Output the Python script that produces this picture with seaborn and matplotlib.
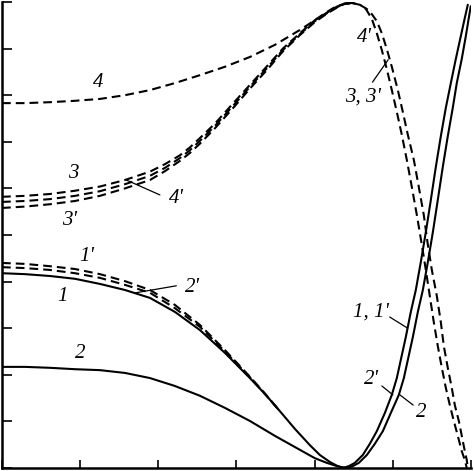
import numpy as np
import pandas as pd
import matplotlib
matplotlib.use("Agg")
import matplotlib.pyplot as plt
import seaborn as sns

# curve 1 (solid)
c1_x = [0.000, 0.294, 0.614, 0.934, 1.253, 1.573, 1.893, 2.212, 2.532, 2.852,
        3.171, 3.363, 3.555, 3.747, 3.939, 4.066, 4.194, 4.284, 4.361,
        4.437, 4.514, 4.616, 4.706, 4.795, 4.898, 4.987, 5.051, 5.102, 5.166,
        5.230, 5.294, 5.358, 5.422, 5.486, 5.550, 5.614, 5.678, 5.742, 5.806,
        5.870, 5.921, 5.959]
c1_y = [0.418, 0.416, 0.412, 0.406, 0.395, 0.382, 0.365, 0.335, 0.296, 0.247,
        0.193, 0.159, 0.122, 0.084, 0.049, 0.028, 0.013, 0.005, 0.000,
        0.004, 0.011, 0.028, 0.052, 0.079, 0.118, 0.157, 0.193, 0.232, 0.281,
        0.335, 0.382, 0.442, 0.506, 0.575, 0.646, 0.712, 0.773, 0.826, 0.878,
        0.927, 0.966, 0.994]

# curves 1' and 2' (dashed) - visible part before they join curve 1
c1p_x = [0.000, 0.294, 0.614, 0.934, 1.253, 1.573, 1.893, 2.212, 2.532, 2.852,
         3.171, 3.363, 3.555]
c1p_y = [0.440, 0.438, 0.433, 0.427, 0.416, 0.401, 0.382, 0.350, 0.307, 0.253,
         0.196, 0.160, 0.122]
c2p_y = [0.431, 0.429, 0.425, 0.418, 0.408, 0.393, 0.376, 0.343, 0.303, 0.250,
         0.195, 0.159, 0.122]

# curve 2 (solid)
c2_x = [0.000, 0.294, 0.614, 0.934, 1.253, 1.573, 1.893, 2.212, 2.532, 2.852,
        3.171, 3.491, 3.811, 4.003, 4.156, 4.284, 4.412,
        4.488, 4.565, 4.668, 4.770, 4.872, 4.974, 5.077, 5.141, 5.192, 5.256,
        5.320, 5.384, 5.448, 5.512, 5.575, 5.639, 5.703, 5.767, 5.818, 5.882,
        5.934, 5.972, 5.997]
c2_y = [0.217, 0.217, 0.215, 0.212, 0.210, 0.204, 0.193, 0.176, 0.155, 0.129,
        0.101, 0.069, 0.039, 0.021, 0.011, 0.004, 0.000,
        0.004, 0.011, 0.028, 0.052, 0.079, 0.118, 0.157, 0.193, 0.232, 0.281,
        0.335, 0.382, 0.442, 0.506, 0.575, 0.646, 0.712, 0.773, 0.826, 0.878,
        0.927, 0.966, 0.991]

# curve 4 (dashed); 4' falls along it after the peak
c4_x = [0.000, 0.294, 0.614, 0.934, 1.253, 1.573, 1.893, 2.212, 2.532, 2.852,
        3.171, 3.491, 3.811, 4.003, 4.130, 4.258, 4.386, 4.476, 4.578, 4.655,
        4.731, 4.795, 4.859, 4.923, 4.987, 5.051, 5.115, 5.179, 5.243, 5.307,
        5.371, 5.422, 5.473, 5.524, 5.575, 5.627, 5.678, 5.729, 5.780, 5.831,
        5.882, 5.921, 5.946]
c4_y = [0.783, 0.783, 0.785, 0.788, 0.792, 0.800, 0.811, 0.826, 0.843, 0.861,
        0.882, 0.908, 0.940, 0.961, 0.976, 0.989, 0.997, 0.998, 0.994, 0.985,
        0.964, 0.933, 0.897, 0.856, 0.811, 0.764, 0.715, 0.661, 0.603, 0.543,
        0.479, 0.425, 0.369, 0.313, 0.262, 0.215, 0.172, 0.135, 0.101, 0.069,
        0.036, 0.017, 0.000]

# rising bundle 3 / 4' / 3' (dashed)
b_x = [0.000, 0.294, 0.614, 0.934, 1.253, 1.573, 1.893, 2.084, 2.276, 2.404,
       2.532, 2.724, 2.954, 3.171, 3.389, 3.593, 3.811, 4.003, 4.156, 4.284,
       4.386, 4.476]
c3_rise = [0.582, 0.584, 0.588, 0.595, 0.604, 0.618, 0.636, 0.652, 0.671, 0.688,
           0.708, 0.739, 0.782, 0.822, 0.862, 0.900, 0.933, 0.961, 0.977, 0.990,
           0.996, 0.998]
c4p_rise = [0.571, 0.573, 0.577, 0.584, 0.594, 0.609, 0.627, 0.644, 0.665, 0.682,
            0.702, 0.734, 0.777, 0.818, 0.858, 0.897, 0.931, 0.959, 0.976, 0.989,
            0.996, 0.998]
c3p_rise = [0.558, 0.561, 0.566, 0.573, 0.584, 0.600, 0.618, 0.637, 0.659, 0.676,
            0.696, 0.729, 0.772, 0.814, 0.854, 0.894, 0.929, 0.957, 0.975, 0.988,
            0.996, 0.998]

# falling branch shared by 3 and 3'
c3_fall_x = [4.578, 4.668, 4.731, 4.795, 4.859, 4.923, 4.987, 5.064, 5.128, 5.192,
             5.269, 5.332, 5.396, 5.448, 5.499, 5.563, 5.614, 5.652, 5.703, 5.754,
             5.793, 5.844, 5.882, 5.921, 5.946, 5.959]
c3_fall_y = [0.994, 0.985, 0.974, 0.959, 0.933, 0.899, 0.861, 0.811, 0.764, 0.715,
             0.661, 0.603, 0.543, 0.479, 0.425, 0.369, 0.313, 0.262, 0.215, 0.172,
             0.135, 0.101, 0.069, 0.036, 0.017, 0.000]

# curve labels: text, position, leader line (start, end) or None
labels = [
    ("4", (1.23, 0.828), None),
    ("3", (0.91, 0.631), None),
    ("3'", (0.87, 0.532), None),
    ("4'", (2.23, 0.579), ((2.02, 0.586), (1.59, 0.618))),
    ("1'", (1.09, 0.453), None),
    ("1", (0.77, 0.367), None),
    ("2'", (2.44, 0.388), ((2.23, 0.391), (1.71, 0.376))),
    ("2", (1.00, 0.245), None),
    ("1, 1'", (4.72, 0.335), ((4.96, 0.324), (5.19, 0.300))),
    ("2'", (4.73, 0.189), ((4.86, 0.176), (5.00, 0.157))),
    ("2", (5.36, 0.120), ((5.26, 0.135), (5.09, 0.157))),
    ("4'", (4.64, 0.923), None),
    ("3, 3'", (4.62, 0.796), ((4.74, 0.828), (4.94, 0.876))),
]

sns.set_theme(style="white")
plt.rcParams['font.family'] = ['Liberation Serif', 'DejaVu Serif']

fig = plt.figure(figsize=(4.74, 4.71), dpi=100)
ax = fig.add_axes([2 / 474, 3 / 471, 469 / 474, 466 / 471])

dash = (0, (4.2, 2.4))
curves = [
    (c1_x, c1_y, '-'),
    (c1p_x, c1p_y, dash),
    (c1p_x, c2p_y, dash),
    (c2_x, c2_y, '-'),
    (c4_x, c4_y, dash),
    (b_x, c4p_rise, dash),
    (b_x + c3_fall_x, c3_rise + c3_fall_y, dash),
    (b_x, c3p_rise, dash),
]
for xs, ys, ls in curves:
    df = pd.DataFrame({'x': xs, 'y': ys})
    sns.lineplot(data=df, x='x', y='y', ax=ax, color='black', linewidth=1.5,
                 linestyle=ls, estimator=None, sort=False)

for text, pos, leader in labels:
    ax.text(pos[0], pos[1], text, fontsize=15, style='italic',
            ha='center', va='center', color='black')
    if leader is not None:
        ax.annotate('', xy=leader[1], xytext=leader[0],
                    arrowprops=dict(arrowstyle='-', lw=0.9, color='black',
                                    shrinkA=0, shrinkB=0))

ax.set_xlim(0, 6)
ax.set_ylim(0, 1)
ax.set_xticks(np.arange(0, 7, 1))
ax.set_yticks(np.arange(0, 1.01, 0.1))
ax.set_xticklabels([])
ax.set_yticklabels([])
ax.set_xlabel('')
ax.set_ylabel('')
ax.tick_params(axis='x', direction='in', length=5.5, width=1.2, color='black', bottom=True)
ax.tick_params(axis='y', direction='in', length=7, width=1.2, color='black', left=True)
for side in ['top', 'right']:
    ax.spines[side].set_visible(False)
for side in ['left', 'bottom']:
    ax.spines[side].set_linewidth(1.8)
    ax.spines[side].set_color('black')

fig.savefig('out.png', dpi=100)
